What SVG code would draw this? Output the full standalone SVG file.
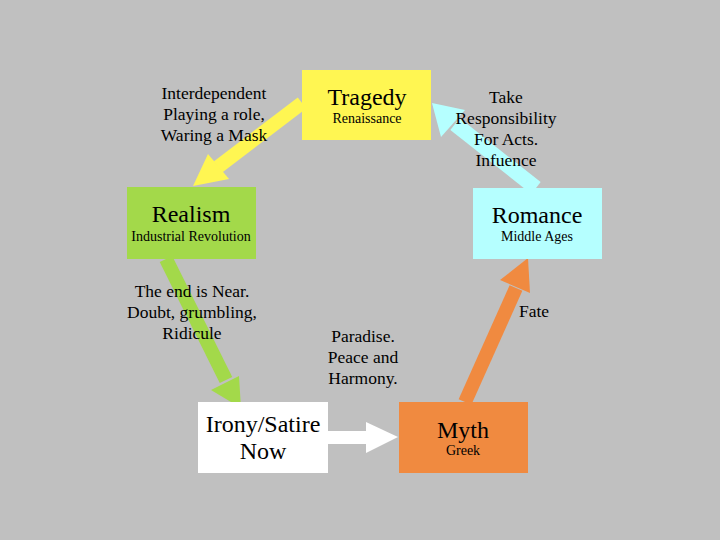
<svg xmlns="http://www.w3.org/2000/svg" width="720" height="540" viewBox="0 0 720 540">
<style>
text{font-family:"Liberation Serif","Times New Roman",serif;fill:#000;text-anchor:middle}
.t{font-size:24px}
.s{font-size:14px}
.l{font-size:17.5px}
</style>
<rect width="720" height="540" fill="#c0c0c0"/>
<g id="connectors">
  <g id="c-tragedy-realism" fill="#fff652">
    <line x1="302" y1="103" x2="218" y2="167" stroke="#fff652" stroke-width="14"/>
    <polygon points="193,186 208,154 229,179"/>
  </g>
  <g id="c-romance-tragedy" fill="#b5ffff">
    <line x1="536" y1="188" x2="455" y2="124" stroke="#b5ffff" stroke-width="15"/>
    <polygon points="432,103 441,137 465,110"/>
  </g>
  <g id="c-realism-irony" fill="#a3d94a">
    <line x1="166" y1="259" x2="226" y2="380" stroke="#a3d94a" stroke-width="14"/>
    <polygon points="241,408 211,390 239,376"/>
  </g>
  <g id="c-irony-myth" fill="#ffffff">
    <rect x="328" y="431" width="40" height="13"/>
    <polygon points="366,422 398,437 366,453"/>
  </g>
  <g id="c-myth-romance" fill="#f08a40">
    <line x1="465" y1="402" x2="516" y2="288" stroke="#f08a40" stroke-width="14"/>
    <polygon points="528,258 500,280 530,293"/>
  </g>
</g>
<g id="tragedy">
  <rect x="302" y="70" width="129" height="70" fill="#fff652"/>
  <text class="t" x="367" y="105">Tragedy</text>
  <text class="s" x="367" y="123">Renaissance</text>
</g>
<g id="realism">
  <rect x="127" y="187" width="129" height="72" fill="#a3d94a"/>
  <text class="t" x="191" y="222">Realism</text>
  <text class="s" x="191" y="241">Industrial Revolution</text>
</g>
<g id="romance">
  <rect x="473" y="188" width="129" height="71" fill="#b5ffff"/>
  <text class="t" x="537" y="223">Romance</text>
  <text class="s" x="537" y="241">Middle Ages</text>
</g>
<g id="irony">
  <rect x="198" y="402" width="130" height="71" fill="#ffffff"/>
  <text class="t" x="263" y="432">Irony/Satire</text>
  <text class="t" x="263" y="459">Now</text>
</g>
<g id="myth">
  <rect x="399" y="402" width="129" height="71" fill="#f08a40"/>
  <text class="t" x="463" y="438">Myth</text>
  <text class="s" x="463" y="455">Greek</text>
</g>
<g id="labels">
  <text class="l" x="214" y="99">Interdependent</text>
  <text class="l" x="214" y="120">Playing a role,</text>
  <text class="l" x="214" y="141">Waring a Mask</text>
  <text class="l" x="506" y="103">Take</text>
  <text class="l" x="506" y="124">Responsibility</text>
  <text class="l" x="506" y="145">For Acts.</text>
  <text class="l" x="506" y="166">Infuence</text>
  <text class="l" x="192" y="297">The end is Near.</text>
  <text class="l" x="192" y="318">Doubt, grumbling,</text>
  <text class="l" x="192" y="339">Ridicule</text>
  <text class="l" x="363" y="342">Paradise.</text>
  <text class="l" x="363" y="363">Peace and</text>
  <text class="l" x="363" y="384">Harmony.</text>
  <text class="l" x="534" y="317">Fate</text>
</g>
</svg>
